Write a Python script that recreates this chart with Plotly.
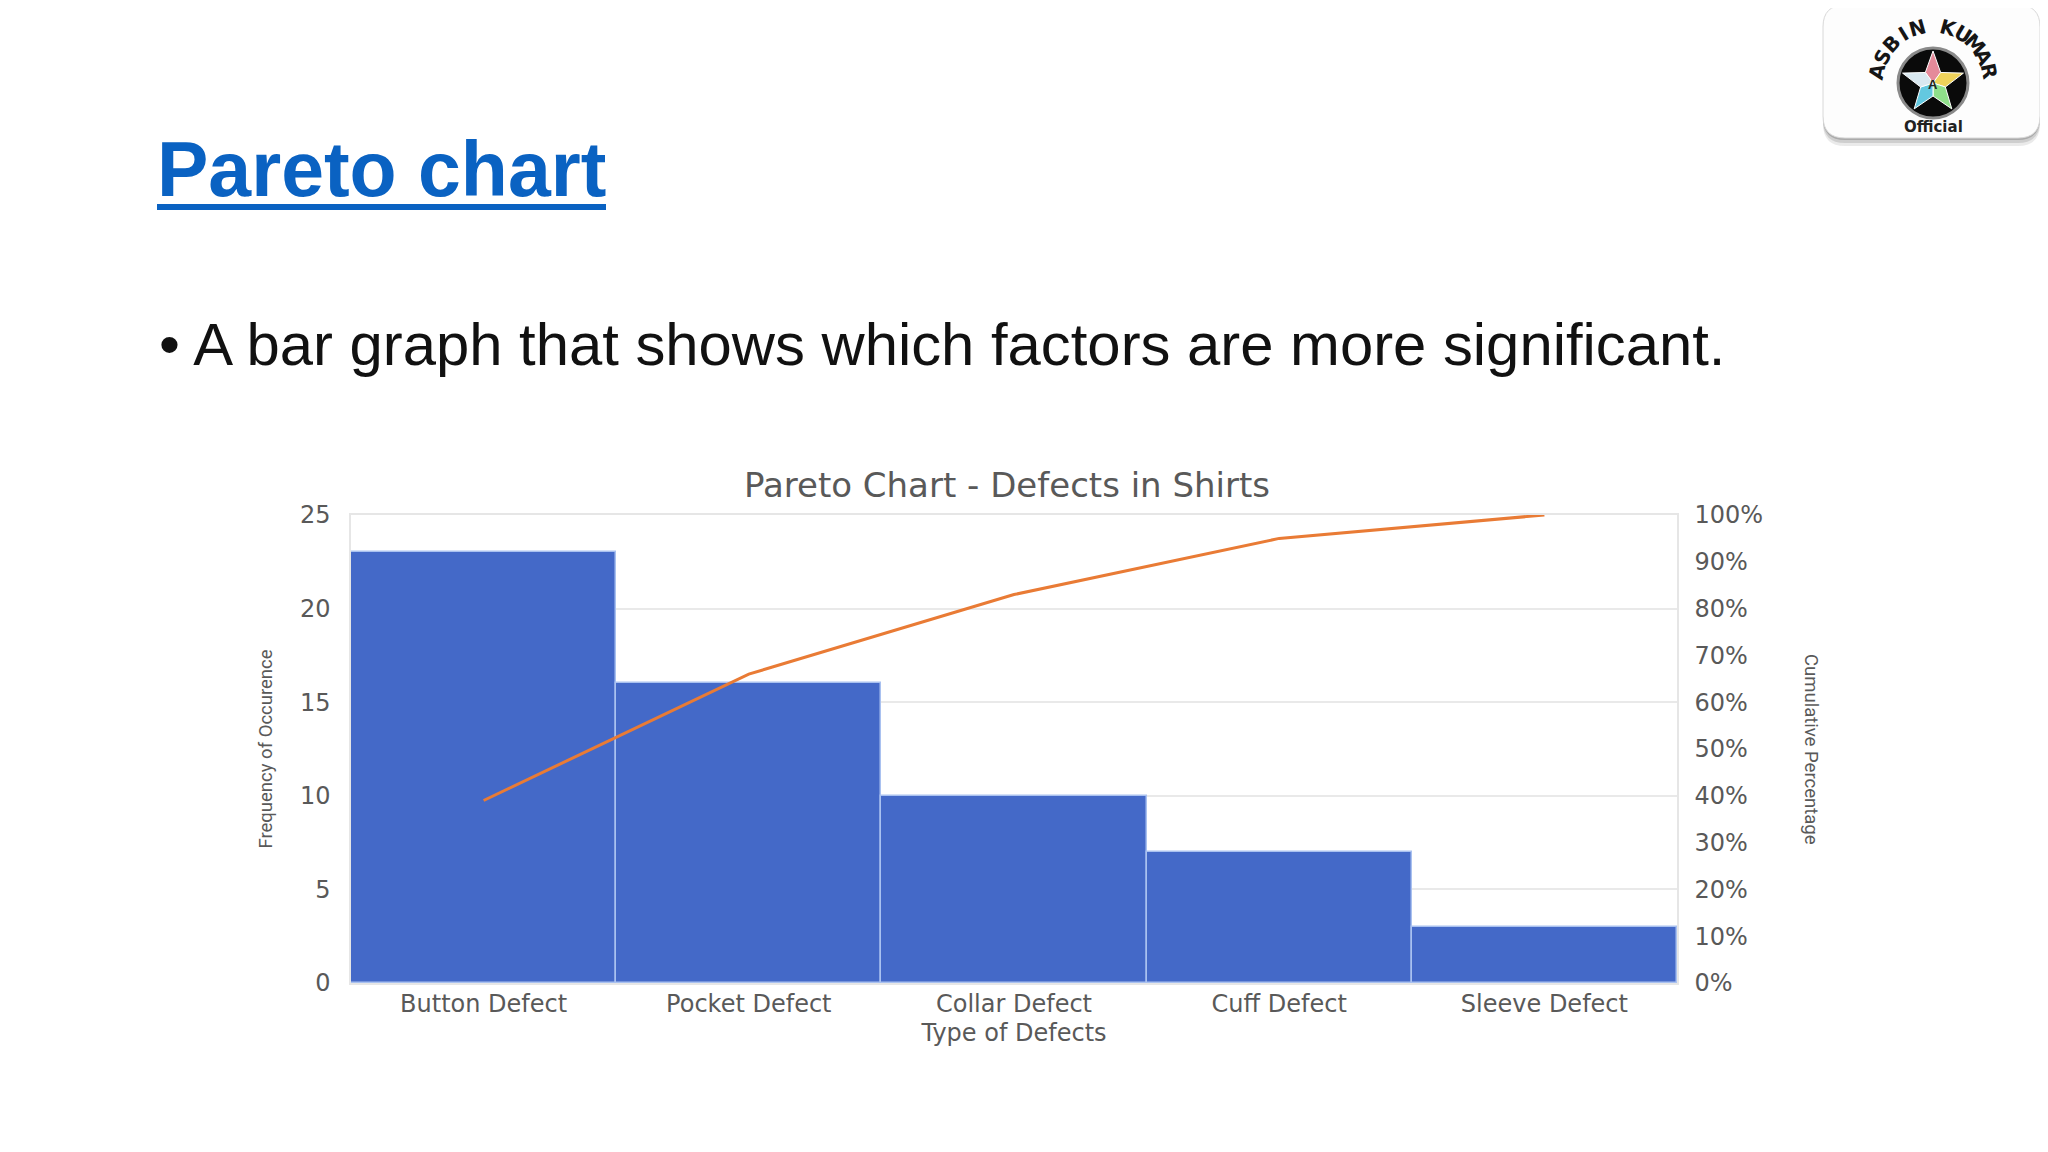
import math
import plotly.graph_objects as go

# Values
defects = ["Button Defect", "Pocket Defect", "Collar Defect", "Cuff Defect", "Sleeve Defect"]
frequency = [23, 16, 10, 7, 3]
cumulative_pct = [39, 66, 83, 95, 100]
freq_ticks = [0, 5, 10, 15, 20, 25]
logo_letters = ["A", "S", "B", "I", "N", "", "K", "U", "M", "A", "R"]

# the page body has an 8px margin, so the figure is 16px smaller than the window
W, H = 2040, 1144
PAGE = 8
L, R, T, B = 351, 1677, 515, 983
GREY = "#595959"
TICK_FONT = dict(family="DejaVu Sans", size=24, color=GREY)
SIDE_FONT = dict(family="Roboto", size=18.5, color=GREY)


def fx(px):
    return (px - L) / (R - L)


def fy(py):
    return (B - py) / (B - T)


def text(px, py, s, font, anchor="center", angle=0):
    fig.add_annotation(x=fx(px), y=fy(py), xref="paper", yref="paper", text=s, showarrow=False,
                       font=font, xanchor=anchor, yanchor="middle", textangle=angle)


def round_rect(x0, y0, x1, y1, r):
    a, b, c, d = fx(x0), fy(y0), fx(x1), fy(y1)
    rx, ry = r / (R - L), r / (B - T)
    return (f"M {a+rx} {b} L {c-rx} {b} Q {c} {b} {c} {b-ry} L {c} {d+ry} Q {c} {d} {c-rx} {d} "
            f"L {a+rx} {d} Q {a} {d} {a} {d+ry} L {a} {b-ry} Q {a} {b} {a+rx} {b} Z")


fig = go.Figure()

fig.add_trace(go.Bar(x=defects, y=frequency, marker=dict(color="#4469C8", line=dict(color="#A9C1F0", width=1.5)),
                     name="Frequency"))
fig.add_trace(go.Scatter(x=defects, y=cumulative_pct, yaxis="y2", mode="lines", cliponaxis=False,
                         line=dict(color="#E97B35", width=3), name="Cumulative"))

fig.update_layout(
    width=W, height=H, margin=dict(l=L - PAGE, r=W + PAGE - R, t=T - PAGE, b=H + PAGE - B),
    paper_bgcolor="white", plot_bgcolor="white", showlegend=False, bargap=0,
    title=dict(text="Pareto Chart - Defects in Shirts", x=(1007 - PAGE) / W, y=1 - (485 - PAGE) / H,
               xanchor="center", yanchor="middle", font=dict(family="DejaVu Sans", size=34, color=GREY)),
    xaxis=dict(tickfont=TICK_FONT, showgrid=False, showline=True, linecolor="#E6E6E6", linewidth=1.5, mirror=True,
               layer="below traces", ticks="", ticklabelstandoff=-2,
               title=dict(text="Type of Defects", font=TICK_FONT, standoff=8)),
    yaxis=dict(range=[0, 25], tickvals=freq_ticks, tickfont=TICK_FONT, gridcolor="#E9E9E9", gridwidth=1.5,
               showline=True, linecolor="#E6E6E6", linewidth=1.5, ticks="", zeroline=False, ticklabelstandoff=14,
               title=dict(text="Frequency of Occurence", font=SIDE_FONT, standoff=22)),
    yaxis2=dict(range=[0, 100], tick0=0, dtick=10, ticksuffix="%", overlaying="y", side="right",
                tickfont=TICK_FONT, showgrid=False, showline=True, linecolor="#E6E6E6", linewidth=1.5,
                ticks="", zeroline=False, ticklabelstandoff=11),
)

text(1811, 749, "Cumulative Percentage", SIDE_FONT, angle=90)

# Slide heading and bullet
text(155, 169, "<b>Pareto chart</b>", dict(family="Liberation Sans", size=77, color="#0A62C2"), anchor="left")
fig.add_shape(type="rect", xref="paper", yref="paper", x0=fx(157), x1=fx(606), y0=fy(210), y1=fy(204),
              fillcolor="#0A62C2", line_width=0)
text(157, 344, "• A bar graph that shows which factors are more significant.",
     dict(family="Liberation Sans", size=59.8, color="#111111"), anchor="left")

# Logo badge, top right
for off, op in [(10, 0.12), (7, 0.18), (4, 0.3)]:
    fig.add_shape(type="path", xref="paper", yref="paper", path=round_rect(1823, 6 + off, 2040, 136 + off, 22),
                  fillcolor="#555555", opacity=op, line_width=0)
fig.add_shape(type="path", xref="paper", yref="paper", path=round_rect(1823, 5, 2040, 138, 22),
              fillcolor="#FDFDFD", line=dict(color="#D8D8D8", width=1))
fig.add_shape(type="line", xref="paper", yref="paper", x0=fx(1843), x1=fx(2020), y0=fy(6), y1=fy(6),
              line=dict(color="#444444", width=3.5))

cx, cy, rad = 1933, 83, 35
fig.add_shape(type="circle", xref="paper", yref="paper", x0=fx(cx - rad), x1=fx(cx + rad), y0=fy(cy - rad),
              y1=fy(cy + rad), fillcolor="#0A0A0A", line=dict(color="#8A8A8A", width=3))
arm_colors = ["#E58A9A", "#EFD25A", "#8FE08A", "#63C8E0", "#D9E8F0"]
outer, inner = 32, 13
for i, col in enumerate(arm_colors):
    ang = math.radians(-90 + 72 * i)
    pts = [(cx + outer * math.cos(ang), cy + outer * math.sin(ang))]
    for da, rr in [(36, inner), (0, 0), (-36, inner)]:
        a2 = ang + math.radians(da)
        pts.append((cx + rr * math.cos(a2), cy + rr * math.sin(a2)))
    path = "M " + " L ".join(f"{fx(a)} {fy(b)}" for a, b in pts) + " Z"
    fig.add_shape(type="path", xref="paper", yref="paper", path=path, fillcolor=col,
                  line=dict(color="white", width=1))
text(cx, cy + 1, "<b>A</b>", dict(family="Liberation Sans", size=13, color="#222222"))

for i, ch in enumerate(logo_letters):
    deg = -78 + 15.6 * i
    ang = math.radians(deg - 90)
    text(cx + 57 * math.cos(ang), cy + 57 * math.sin(ang), f"<b>{ch}</b>",
         dict(family="DejaVu Sans", size=20, color="#151515"), angle=deg)
text(cx, 127, "<b>Official</b>", dict(family="DejaVu Sans", size=15, color="#222222"))

fig.write_html("out.html")
